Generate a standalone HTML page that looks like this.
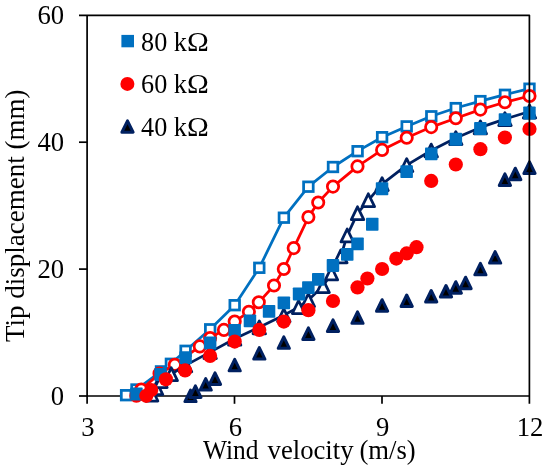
<!DOCTYPE html>
<html lang="en"><head><meta charset="utf-8"><title>Tip displacement vs wind velocity</title>
<style>html,body{margin:0;padding:0;background:#fff}body{width:550px;height:470px;position:relative;overflow:hidden}</style></head>
<body>
<svg width="550" height="470" viewBox="0 0 550 470" style="position:absolute;left:0;top:0">
<g stroke="#000" stroke-width="1.7" fill="none">
<polyline points="87.1,15.3 87.1,396.0 529.4,396.0"/>
<line x1="79" x2="87.1" y1="396.0" y2="396.0"/>
<line x1="79" x2="87.1" y1="269.1" y2="269.1"/>
<line x1="79" x2="87.1" y1="142.2" y2="142.2"/>
<line x1="87.1" x2="87.1" y1="396.0" y2="403.8"/>
<line x1="234.5" x2="234.5" y1="396.0" y2="403.8"/>
<line x1="382.0" x2="382.0" y1="396.0" y2="403.8"/>
</g>
<g><polyline points="126.1,395.2 136.4,389.5 161.0,371.4 170.8,363.8 185.6,350.8 210.1,329.2 234.7,305.2 259.3,267.8 283.8,217.7 308.4,186.6 333.0,167.0 357.5,151.1 382.1,137.2 406.7,126.4 431.2,116.3 455.8,108.0 480.4,101.1 504.9,94.7 529.5,88.7" fill="none" stroke="#0070C0" stroke-width="2.75" stroke-linejoin="round"/><rect x="121.3" y="390.4" width="9.6" height="9.6" fill="#fff" stroke="#0070C0" stroke-width="2.75"/><rect x="131.7" y="384.7" width="9.6" height="9.6" fill="#fff" stroke="#0070C0" stroke-width="2.75"/><rect x="156.2" y="366.6" width="9.6" height="9.6" fill="#fff" stroke="#0070C0" stroke-width="2.75"/><rect x="166.1" y="359.0" width="9.6" height="9.6" fill="#fff" stroke="#0070C0" stroke-width="2.75"/><rect x="180.8" y="346.0" width="9.6" height="9.6" fill="#fff" stroke="#0070C0" stroke-width="2.75"/><rect x="205.4" y="324.5" width="9.6" height="9.6" fill="#fff" stroke="#0070C0" stroke-width="2.75"/><rect x="229.9" y="300.4" width="9.6" height="9.6" fill="#fff" stroke="#0070C0" stroke-width="2.75"/><rect x="254.5" y="263.0" width="9.6" height="9.6" fill="#fff" stroke="#0070C0" stroke-width="2.75"/><rect x="279.1" y="212.9" width="9.6" height="9.6" fill="#fff" stroke="#0070C0" stroke-width="2.75"/><rect x="303.6" y="181.9" width="9.6" height="9.6" fill="#fff" stroke="#0070C0" stroke-width="2.75"/><rect x="328.2" y="162.2" width="9.6" height="9.6" fill="#fff" stroke="#0070C0" stroke-width="2.75"/><rect x="352.8" y="146.4" width="9.6" height="9.6" fill="#fff" stroke="#0070C0" stroke-width="2.75"/><rect x="377.3" y="132.4" width="9.6" height="9.6" fill="#fff" stroke="#0070C0" stroke-width="2.75"/><rect x="401.9" y="121.6" width="9.6" height="9.6" fill="#fff" stroke="#0070C0" stroke-width="2.75"/><rect x="426.5" y="111.5" width="9.6" height="9.6" fill="#fff" stroke="#0070C0" stroke-width="2.75"/><rect x="451.0" y="103.3" width="9.6" height="9.6" fill="#fff" stroke="#0070C0" stroke-width="2.75"/><rect x="475.6" y="96.3" width="9.6" height="9.6" fill="#fff" stroke="#0070C0" stroke-width="2.75"/><rect x="500.2" y="90.0" width="9.6" height="9.6" fill="#fff" stroke="#0070C0" stroke-width="2.75"/><rect x="524.7" y="83.9" width="9.6" height="9.6" fill="#fff" stroke="#0070C0" stroke-width="2.75"/></g>
<g><polyline points="136.4,395.8 141.3,389.5 159.5,373.6 174.8,364.7 199.8,346.4 210.1,338.1 223.9,329.9 234.7,321.6 248.9,311.8 258.8,302.3 274.0,285.5 283.8,269.0 293.7,248.1 308.4,217.1 318.2,202.5 333.0,186.6 357.5,166.4 382.1,149.9 406.7,137.8 431.2,127.1 455.8,118.2 480.4,109.6 504.9,102.3 529.5,96.0" fill="none" stroke="#FF0000" stroke-width="2.75" stroke-linejoin="round"/><circle cx="136.4" cy="395.8" r="5.67" fill="#fff" stroke="#FF0000" stroke-width="2.75"/><circle cx="141.3" cy="389.5" r="5.67" fill="#fff" stroke="#FF0000" stroke-width="2.75"/><circle cx="159.5" cy="373.6" r="5.67" fill="#fff" stroke="#FF0000" stroke-width="2.75"/><circle cx="174.8" cy="364.7" r="5.67" fill="#fff" stroke="#FF0000" stroke-width="2.75"/><circle cx="199.8" cy="346.4" r="5.67" fill="#fff" stroke="#FF0000" stroke-width="2.75"/><circle cx="210.1" cy="338.1" r="5.67" fill="#fff" stroke="#FF0000" stroke-width="2.75"/><circle cx="223.9" cy="329.9" r="5.67" fill="#fff" stroke="#FF0000" stroke-width="2.75"/><circle cx="234.7" cy="321.6" r="5.67" fill="#fff" stroke="#FF0000" stroke-width="2.75"/><circle cx="248.9" cy="311.8" r="5.67" fill="#fff" stroke="#FF0000" stroke-width="2.75"/><circle cx="258.8" cy="302.3" r="5.67" fill="#fff" stroke="#FF0000" stroke-width="2.75"/><circle cx="274.0" cy="285.5" r="5.67" fill="#fff" stroke="#FF0000" stroke-width="2.75"/><circle cx="283.8" cy="269.0" r="5.67" fill="#fff" stroke="#FF0000" stroke-width="2.75"/><circle cx="293.7" cy="248.1" r="5.67" fill="#fff" stroke="#FF0000" stroke-width="2.75"/><circle cx="308.4" cy="217.1" r="5.67" fill="#fff" stroke="#FF0000" stroke-width="2.75"/><circle cx="318.2" cy="202.5" r="5.67" fill="#fff" stroke="#FF0000" stroke-width="2.75"/><circle cx="333.0" cy="186.6" r="5.67" fill="#fff" stroke="#FF0000" stroke-width="2.75"/><circle cx="357.5" cy="166.4" r="5.67" fill="#fff" stroke="#FF0000" stroke-width="2.75"/><circle cx="382.1" cy="149.9" r="5.67" fill="#fff" stroke="#FF0000" stroke-width="2.75"/><circle cx="406.7" cy="137.8" r="5.67" fill="#fff" stroke="#FF0000" stroke-width="2.75"/><circle cx="431.2" cy="127.1" r="5.67" fill="#fff" stroke="#FF0000" stroke-width="2.75"/><circle cx="455.8" cy="118.2" r="5.67" fill="#fff" stroke="#FF0000" stroke-width="2.75"/><circle cx="480.4" cy="109.6" r="5.67" fill="#fff" stroke="#FF0000" stroke-width="2.75"/><circle cx="504.9" cy="102.3" r="5.67" fill="#fff" stroke="#FF0000" stroke-width="2.75"/><circle cx="529.5" cy="96.0" r="5.67" fill="#fff" stroke="#FF0000" stroke-width="2.75"/></g>
<g><polyline points="151.7,394.5 156.6,388.2 161.0,381.2 171.3,374.2 185.6,365.4 210.1,352.1 234.7,338.8 259.3,327.3 283.8,315.3 298.6,307.1 308.4,300.1 323.1,286.1 331.5,273.5 340.8,256.4 347.2,235.4 357.5,213.3 368.3,200.3 382.1,184.1 406.7,165.1 431.2,150.5 455.8,138.1 480.4,127.4 504.9,119.1 529.5,111.5" fill="none" stroke="#002060" stroke-width="2.75" stroke-linejoin="round"/><path d="M151.7,388.1 L157.9,401.0 L145.4,401.0 Z" fill="#fff" stroke="#002060" stroke-width="2.75" stroke-linejoin="round"/><path d="M156.6,381.8 L162.8,394.6 L150.4,394.6 Z" fill="#fff" stroke="#002060" stroke-width="2.75" stroke-linejoin="round"/><path d="M161.0,374.8 L167.2,387.6 L154.8,387.6 Z" fill="#fff" stroke="#002060" stroke-width="2.75" stroke-linejoin="round"/><path d="M171.3,367.8 L177.5,380.7 L165.1,380.7 Z" fill="#fff" stroke="#002060" stroke-width="2.75" stroke-linejoin="round"/><path d="M185.6,359.0 L191.8,371.8 L179.3,371.8 Z" fill="#fff" stroke="#002060" stroke-width="2.75" stroke-linejoin="round"/><path d="M210.1,345.6 L216.4,358.5 L203.9,358.5 Z" fill="#fff" stroke="#002060" stroke-width="2.75" stroke-linejoin="round"/><path d="M234.7,332.3 L240.9,345.2 L228.5,345.2 Z" fill="#fff" stroke="#002060" stroke-width="2.75" stroke-linejoin="round"/><path d="M259.3,320.9 L265.5,333.8 L253.0,333.8 Z" fill="#fff" stroke="#002060" stroke-width="2.75" stroke-linejoin="round"/><path d="M283.8,308.9 L290.1,321.7 L277.6,321.7 Z" fill="#fff" stroke="#002060" stroke-width="2.75" stroke-linejoin="round"/><path d="M298.6,300.6 L304.8,313.5 L292.3,313.5 Z" fill="#fff" stroke="#002060" stroke-width="2.75" stroke-linejoin="round"/><path d="M308.4,293.7 L314.6,306.5 L302.2,306.5 Z" fill="#fff" stroke="#002060" stroke-width="2.75" stroke-linejoin="round"/><path d="M323.1,279.7 L329.4,292.6 L316.9,292.6 Z" fill="#fff" stroke="#002060" stroke-width="2.75" stroke-linejoin="round"/><path d="M331.5,267.0 L337.7,279.9 L325.3,279.9 Z" fill="#fff" stroke="#002060" stroke-width="2.75" stroke-linejoin="round"/><path d="M340.8,249.9 L347.1,262.8 L334.6,262.8 Z" fill="#fff" stroke="#002060" stroke-width="2.75" stroke-linejoin="round"/><path d="M347.2,229.0 L353.4,241.9 L341.0,241.9 Z" fill="#fff" stroke="#002060" stroke-width="2.75" stroke-linejoin="round"/><path d="M357.5,206.8 L363.8,219.7 L351.3,219.7 Z" fill="#fff" stroke="#002060" stroke-width="2.75" stroke-linejoin="round"/><path d="M368.3,193.8 L374.6,206.7 L362.1,206.7 Z" fill="#fff" stroke="#002060" stroke-width="2.75" stroke-linejoin="round"/><path d="M382.1,177.7 L388.3,190.5 L375.9,190.5 Z" fill="#fff" stroke="#002060" stroke-width="2.75" stroke-linejoin="round"/><path d="M406.7,158.7 L412.9,171.5 L400.4,171.5 Z" fill="#fff" stroke="#002060" stroke-width="2.75" stroke-linejoin="round"/><path d="M431.2,144.1 L437.5,156.9 L425.0,156.9 Z" fill="#fff" stroke="#002060" stroke-width="2.75" stroke-linejoin="round"/><path d="M455.8,131.7 L462.0,144.6 L449.6,144.6 Z" fill="#fff" stroke="#002060" stroke-width="2.75" stroke-linejoin="round"/><path d="M480.4,120.9 L486.6,133.8 L474.1,133.8 Z" fill="#fff" stroke="#002060" stroke-width="2.75" stroke-linejoin="round"/><path d="M504.9,112.7 L511.2,125.6 L498.7,125.6 Z" fill="#fff" stroke="#002060" stroke-width="2.75" stroke-linejoin="round"/><path d="M529.5,105.1 L535.7,118.0 L523.3,118.0 Z" fill="#fff" stroke="#002060" stroke-width="2.75" stroke-linejoin="round"/></g>
<g><rect x="130.2" y="387.6" width="12.5" height="12.9" rx="0.8" fill="#0070C0"/><rect x="154.3" y="368.0" width="12.5" height="12.9" rx="0.8" fill="#0070C0"/><rect x="179.3" y="351.2" width="12.5" height="12.9" rx="0.8" fill="#0070C0"/><rect x="203.9" y="336.6" width="12.5" height="12.9" rx="0.8" fill="#0070C0"/><rect x="228.4" y="323.9" width="12.5" height="12.9" rx="0.8" fill="#0070C0"/><rect x="243.7" y="314.4" width="12.5" height="12.9" rx="0.8" fill="#0070C0"/><rect x="262.8" y="304.9" width="12.5" height="12.9" rx="0.8" fill="#0070C0"/><rect x="277.6" y="296.4" width="12.5" height="12.9" rx="0.8" fill="#0070C0"/><rect x="292.8" y="287.5" width="12.5" height="12.9" rx="0.8" fill="#0070C0"/><rect x="302.1" y="281.2" width="12.5" height="12.9" rx="0.8" fill="#0070C0"/><rect x="312.0" y="272.9" width="12.5" height="12.9" rx="0.8" fill="#0070C0"/><rect x="326.7" y="259.0" width="12.5" height="12.9" rx="0.8" fill="#0070C0"/><rect x="341.0" y="247.9" width="12.5" height="12.9" rx="0.8" fill="#0070C0"/><rect x="351.3" y="237.4" width="12.5" height="12.9" rx="0.8" fill="#0070C0"/><rect x="366.0" y="217.8" width="12.5" height="12.9" rx="0.8" fill="#0070C0"/><rect x="375.8" y="182.3" width="12.5" height="12.9" rx="0.8" fill="#0070C0"/><rect x="400.4" y="165.2" width="12.5" height="12.9" rx="0.8" fill="#0070C0"/><rect x="425.0" y="147.4" width="12.5" height="12.9" rx="0.8" fill="#0070C0"/><rect x="449.6" y="132.8" width="12.5" height="12.9" rx="0.8" fill="#0070C0"/><rect x="474.1" y="122.1" width="12.5" height="12.9" rx="0.8" fill="#0070C0"/><rect x="498.7" y="113.2" width="12.5" height="12.9" rx="0.8" fill="#0070C0"/><rect x="523.2" y="106.5" width="12.5" height="12.9" rx="0.8" fill="#0070C0"/></g>
<g><circle cx="146.3" cy="395.8" r="7.10" fill="#FF0000"/><circle cx="151.2" cy="390.1" r="7.10" fill="#FF0000"/><circle cx="165.9" cy="379.3" r="7.10" fill="#FF0000"/><circle cx="185.1" cy="370.4" r="7.10" fill="#FF0000"/><circle cx="210.1" cy="355.9" r="7.10" fill="#FF0000"/><circle cx="234.7" cy="341.6" r="7.10" fill="#FF0000"/><circle cx="259.3" cy="329.9" r="7.10" fill="#FF0000"/><circle cx="283.8" cy="321.6" r="7.10" fill="#FF0000"/><circle cx="308.4" cy="310.2" r="7.10" fill="#FF0000"/><circle cx="333.0" cy="301.0" r="7.10" fill="#FF0000"/><circle cx="357.5" cy="287.4" r="7.10" fill="#FF0000"/><circle cx="367.4" cy="278.5" r="7.10" fill="#FF0000"/><circle cx="382.1" cy="269.0" r="7.10" fill="#FF0000"/><circle cx="396.3" cy="258.6" r="7.10" fill="#FF0000"/><circle cx="406.7" cy="253.4" r="7.10" fill="#FF0000"/><circle cx="416.5" cy="247.2" r="7.10" fill="#FF0000"/><circle cx="431.2" cy="180.9" r="7.10" fill="#FF0000"/><circle cx="455.8" cy="164.5" r="7.10" fill="#FF0000"/><circle cx="480.4" cy="149.2" r="7.10" fill="#FF0000"/><circle cx="504.9" cy="137.5" r="7.10" fill="#FF0000"/><circle cx="529.5" cy="129.0" r="7.10" fill="#FF0000"/></g>
<g><path d="M190.5,390.1 L196.1,401.6 L184.9,401.6 Z" fill="#000" stroke="#002060" stroke-width="3.0" stroke-linejoin="round"/><path d="M195.4,385.9 L201.0,397.4 L189.8,397.4 Z" fill="#000" stroke="#002060" stroke-width="3.0" stroke-linejoin="round"/><path d="M205.7,378.6 L211.3,390.1 L200.1,390.1 Z" fill="#000" stroke="#002060" stroke-width="3.0" stroke-linejoin="round"/><path d="M215.0,372.9 L220.6,384.4 L209.4,384.4 Z" fill="#000" stroke="#002060" stroke-width="3.0" stroke-linejoin="round"/><path d="M234.7,359.3 L240.3,370.8 L229.1,370.8 Z" fill="#000" stroke="#002060" stroke-width="3.0" stroke-linejoin="round"/><path d="M259.3,347.6 L264.9,359.1 L253.7,359.1 Z" fill="#000" stroke="#002060" stroke-width="3.0" stroke-linejoin="round"/><path d="M283.8,336.8 L289.4,348.3 L278.2,348.3 Z" fill="#000" stroke="#002060" stroke-width="3.0" stroke-linejoin="round"/><path d="M308.4,327.9 L314.0,339.4 L302.8,339.4 Z" fill="#000" stroke="#002060" stroke-width="3.0" stroke-linejoin="round"/><path d="M333.0,319.9 L338.6,331.4 L327.4,331.4 Z" fill="#000" stroke="#002060" stroke-width="3.0" stroke-linejoin="round"/><path d="M357.5,311.8 L363.1,323.3 L351.9,323.3 Z" fill="#000" stroke="#002060" stroke-width="3.0" stroke-linejoin="round"/><path d="M382.1,299.7 L387.7,311.2 L376.5,311.2 Z" fill="#000" stroke="#002060" stroke-width="3.0" stroke-linejoin="round"/><path d="M406.7,295.0 L412.3,306.5 L401.1,306.5 Z" fill="#000" stroke="#002060" stroke-width="3.0" stroke-linejoin="round"/><path d="M431.2,290.5 L436.8,302.0 L425.6,302.0 Z" fill="#000" stroke="#002060" stroke-width="3.0" stroke-linejoin="round"/><path d="M446.0,285.5 L451.6,297.0 L440.4,297.0 Z" fill="#000" stroke="#002060" stroke-width="3.0" stroke-linejoin="round"/><path d="M455.8,281.7 L461.4,293.2 L450.2,293.2 Z" fill="#000" stroke="#002060" stroke-width="3.0" stroke-linejoin="round"/><path d="M465.6,277.2 L471.2,288.7 L460.0,288.7 Z" fill="#000" stroke="#002060" stroke-width="3.0" stroke-linejoin="round"/><path d="M480.4,263.3 L486.0,274.8 L474.8,274.8 Z" fill="#000" stroke="#002060" stroke-width="3.0" stroke-linejoin="round"/><path d="M495.1,251.6 L500.7,263.1 L489.5,263.1 Z" fill="#000" stroke="#002060" stroke-width="3.0" stroke-linejoin="round"/><path d="M504.9,173.9 L510.5,185.4 L499.3,185.4 Z" fill="#000" stroke="#002060" stroke-width="3.0" stroke-linejoin="round"/><path d="M515.3,168.2 L520.9,179.7 L509.7,179.7 Z" fill="#000" stroke="#002060" stroke-width="3.0" stroke-linejoin="round"/><path d="M529.5,161.9 L535.1,173.4 L523.9,173.4 Z" fill="#000" stroke="#002060" stroke-width="3.0" stroke-linejoin="round"/></g>
<g stroke="#000" stroke-width="1.7" fill="none" stroke-linejoin="round">
<polyline points="79,15.3 529.4,15.3 529.4,403.8"/>
</g>
<rect x="121.4" y="34.9" width="12.6" height="12.4" fill="#0070C0"/>
<circle cx="127.4" cy="83.9" r="7.0" fill="#FF0000"/>

<path d="M127.5,120.8 L133.1,132.2 L121.9,132.2 Z" fill="#000" stroke="#002060" stroke-width="3.0" stroke-linejoin="round"/>
<text transform="translate(64.2,404.8) scale(1,1.05)" font-size="26.67" text-anchor="end" font-family="Liberation Serif, Times New Roman, serif" fill="#000">0</text>
<text transform="translate(64.2,278.0) scale(1,1.05)" font-size="26.67" text-anchor="end" font-family="Liberation Serif, Times New Roman, serif" fill="#000">20</text>
<text transform="translate(64.2,151.3) scale(1,1.05)" font-size="26.67" text-anchor="end" font-family="Liberation Serif, Times New Roman, serif" fill="#000">40</text>
<text transform="translate(64.2,23.9) scale(1,1.05)" font-size="26.67" text-anchor="end" font-family="Liberation Serif, Times New Roman, serif" fill="#000">60</text>
<text transform="translate(87.9,436.3) scale(1,1.05)" font-size="26.67" text-anchor="middle" font-family="Liberation Serif, Times New Roman, serif" fill="#000">3</text>
<text transform="translate(235.3,436.3) scale(1,1.05)" font-size="26.67" text-anchor="middle" font-family="Liberation Serif, Times New Roman, serif" fill="#000">6</text>
<text transform="translate(382.7,436.3) scale(1,1.05)" font-size="26.67" text-anchor="middle" font-family="Liberation Serif, Times New Roman, serif" fill="#000">9</text>
<text transform="translate(530.1,436.3) scale(1,1.05)" font-size="26.67" text-anchor="middle" font-family="Liberation Serif, Times New Roman, serif" fill="#000">12</text>
<text transform="translate(203,458.6) scale(0.955,1)" font-size="26.67" font-family="Liberation Serif, Times New Roman, serif" fill="#000">Wind</text>
<text transform="translate(267.6,458.6)" font-size="26.67" font-family="Liberation Serif, Times New Roman, serif" fill="#000">velocity</text>
<text transform="translate(359.4,458.6)" font-size="26.67" font-family="Liberation Serif, Times New Roman, serif" fill="#000">(m/s)</text>
<text transform="translate(24.2,215.8) rotate(-90)" text-anchor="middle" font-size="27" font-family="Liberation Serif, Times New Roman, serif" fill="#000">Tip displacement (mm)</text>
<text transform="translate(141.1,50.9) scale(1,1.06)" font-size="26.2" font-family="Liberation Serif, Times New Roman, serif" fill="#000">80 k</text>
<text transform="translate(187.0,50.9) scale(1.12,1.06)" font-size="26.2" font-family="Liberation Serif, Times New Roman, serif" fill="#000">Ω</text>
<text transform="translate(141.1,93.3) scale(1,1.06)" font-size="26.2" font-family="Liberation Serif, Times New Roman, serif" fill="#000">60 k</text>
<text transform="translate(187.0,93.3) scale(1.12,1.06)" font-size="26.2" font-family="Liberation Serif, Times New Roman, serif" fill="#000">Ω</text>
<text transform="translate(141.1,135.8) scale(1,1.06)" font-size="26.2" font-family="Liberation Serif, Times New Roman, serif" fill="#000">40 k</text>
<text transform="translate(187.0,135.8) scale(1.12,1.06)" font-size="26.2" font-family="Liberation Serif, Times New Roman, serif" fill="#000">Ω</text>
</svg>
</body></html>
